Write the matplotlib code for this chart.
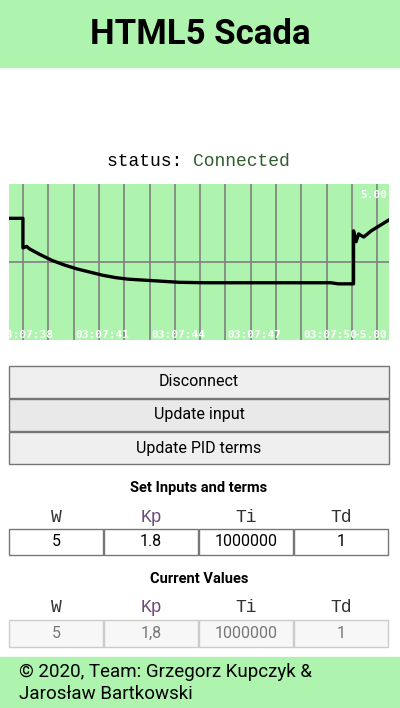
import matplotlib
matplotlib.use("Agg")
import matplotlib.pyplot as plt
from matplotlib.patches import Rectangle

t = [37.3, 37.85, 37.85, 38.0, 38.1, 38.5, 39.0, 39.5, 40.0, 40.5, 41.0, 41.5, 42.0, 42.5, 43.0,
     43.5, 44.0, 45.0, 50.0, 50.3, 50.9, 50.9, 51.0, 51.1, 51.3, 51.6, 52.0, 52.3]
v = [2.8, 2.8, 0.9, 1.0, 0.85, 0.5, 0.1, -0.2, -0.45, -0.65, -0.85, -1.0, -1.1, -1.15, -1.2,
     -1.25, -1.3, -1.33, -1.33, -1.4, -1.4, 2.0, 1.3, 1.8, 1.6, 2.0, 2.4, 2.7]
tick_secs = [38, 41, 44, 47, 50]
tick_labels = ["03:07:38", "03:07:41", "03:07:44", "03:07:47", "03:07:50"]
buttons = ["Disconnect", "Update input", "Update PID terms"]
params = ["W", "Kp", "Ti", "Td"]
inputs = ["5", "1.8", "1000000", "1"]
current = ["5", "1,8", "1000000", "1"]

W, H = 400, 708
fig = plt.figure(figsize=(4, 7.08), dpi=100)
page = fig.add_axes([0, 0, 1, 1])
page.set_xlim(0, W); page.set_ylim(H, 0); page.axis("off")
green = "#aef4ae"
page.add_patch(Rectangle((0, 0), W, 67, color=green))
page.text(200, 35, "HTML5 Scada", ha="center", va="center", fontsize=25, family="Roboto", weight="bold")
page.text(193, 162, "status: ", ha="right", va="center", fontsize=13, family="Liberation Mono")
page.text(193, 162, "Connected", ha="left", va="center", fontsize=13, family="Liberation Mono", color="#2e5e2e")

for i, b in enumerate(buttons):
    y0 = 366 + i * 33
    page.add_patch(Rectangle((9, y0), 380, 32, fc="#e9e9e9" if i == 1 else "#efefef", ec="#767676", lw=1))
    page.text(199, y0 + 16, b, ha="center", va="center", fontsize=11.5, family="Roboto")

page.text(199, 488, "Set Inputs and terms", ha="center", va="center", fontsize=10.5, family="Roboto", weight="bold")
page.text(199, 579, "Current Values", ha="center", va="center", fontsize=10.5, family="Roboto", weight="bold")
cols = [9, 104, 199, 294]
pcol = ["#333333", "#6b4c7a", "#333333", "#333333"]
for j in range(4):
    cx = cols[j] + 47
    page.text(cx, 518, params[j], ha="center", va="center", fontsize=13, family="Liberation Mono", color=pcol[j])
    page.text(cx, 607, params[j], ha="center", va="center", fontsize=13, family="Liberation Mono", color=pcol[j])
    page.add_patch(Rectangle((cols[j], 529), 94, 26, fc="white", ec="#767676", lw=1))
    page.text(cx, 542, inputs[j], ha="center", va="center", fontsize=11.5, family="Roboto")
    page.add_patch(Rectangle((cols[j], 620), 94, 27, fc="#f7f7f7", ec="#cccccc", lw=1))
    page.text(cx, 633, current[j], ha="center", va="center", fontsize=11.5, family="Roboto", color="#777777")

page.add_patch(Rectangle((0, 657), W, 51, color=green))
page.text(19, 672, "© 2020, Team: Grzegorz Kupczyk &", ha="left", va="center", fontsize=13.5, family="Roboto")
page.text(19, 694, "Jarosław Bartkowski", ha="left", va="center", fontsize=13.5, family="Roboto")

ax = fig.add_axes([9 / W, 1 - 340 / H, 380 / W, 156 / H])
ax.set_facecolor(green)
ax.set_xlim(37.3, 52.3); ax.set_ylim(-5, 5)
for x in [37.3 + (k * 25.3 + 14) / 25.33 for k in range(15)]:
    ax.axvline(x, color="#808080", lw=1.2, zorder=1)
ax.axhline(0, color="#808080", lw=1.2, zorder=1)
ax.plot(t, v, color="black", lw=2.4, zorder=3)
for s, l in zip(tick_secs, tick_labels):
    ax.text(s, -4.65, l, ha="center", va="center", color="white", fontsize=8, family="DejaVu Sans Mono", weight="bold")
ax.text(0.995, 0.93, "5.00", transform=ax.transAxes, ha="right", va="center", color="white", fontsize=8, family="DejaVu Sans Mono", weight="bold")
ax.text(0.995, 0.035, "-5.00", transform=ax.transAxes, ha="right", va="center", color="white", fontsize=8, family="DejaVu Sans Mono", weight="bold")
ax.set_xticks([]); ax.set_yticks([])
for sp in ax.spines.values():
    sp.set_visible(False)

fig.savefig("out.png", dpi=100)
